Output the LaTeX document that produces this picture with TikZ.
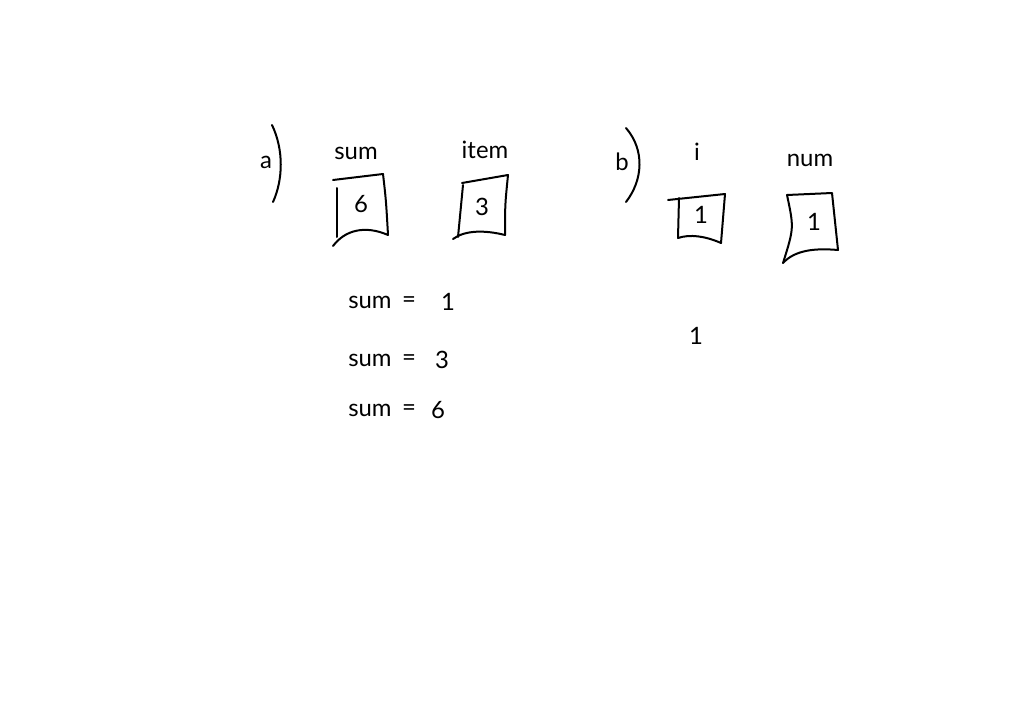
\documentclass[tikz,border=0pt]{standalone}
\usepackage{fontspec}
\setmainfont{Lato}
\begin{document}
\begin{tikzpicture}[x=0.025cm, y=-0.025cm,
        pen/.style={line width=.5mm, line cap=round, line join=round},
        hand/.style={font=\fontsize{17}{20}\selectfont, inner sep=0pt}]
        \useasboundingbox (0,0) rectangle (1024,716);
        % part a
        \node[hand] (a) at (266,162) {a};
        \draw[pen] (272,125) .. controls (284,150) and (283,180) .. (273,202);
        \node[hand] (sumlabel) at (356,153) {sum};
        \node[hand] (itemlabel) at (485,150) {item};
        \draw[pen] (333,180) -- (383,174) .. controls (386,200) .. (388,235)
              .. controls (365,225) and (345,230) .. (333,246);
        \draw[pen] (337,188) -- (337,237);
        \draw[pen] (462,183) -- (508,175) .. controls (505,205) .. (505,235)
              .. controls (485,230) and (465,230) .. (453,239);
        \draw[pen] (463,185) -- (458,237);
        \node[hand] (sumval) at (361,204) {6};
        \node[hand] (itemval) at (482,207) {3};
        % trace of sum
        \foreach \y/\x/\v [count=\k] in {302/448/1, 360/442/3, 410/438/6} {
        \node[hand, anchor=west] (s\k) at (348,\y) {sum};
        \node[hand] (e\k) at (409,\y) {=};
        \node[hand] (v\k) at (\x,\y) {\v};
        }
        % part b
        \node[hand] (b) at (622,162) {b};
        \draw[pen] (626,128) .. controls (645,150) and (643,180) .. (626,202);
        \node[hand] (ilabel) at (697,152) {i};
        \node[hand] (numlabel) at (810,160) {num};
        \draw[pen] (668,200) -- (725,194) -- (721,243)
              .. controls (705,236) and (690,234) .. (678,238);
        \draw[pen] (679,198) -- (678,238);
        \draw[pen] (787,195) -- (832,193) -- (838,250)
              .. controls (815,248) and (795,250) .. (783,263);
        \draw[pen] (787,195) .. controls (794,228) .. (783,263);
        \node[hand] (ival) at (701,215) {1};
        \node[hand] (numval) at (814,222) {1};
        \node[hand] (iout) at (696,336) {1};
\end{tikzpicture}
\end{document}
